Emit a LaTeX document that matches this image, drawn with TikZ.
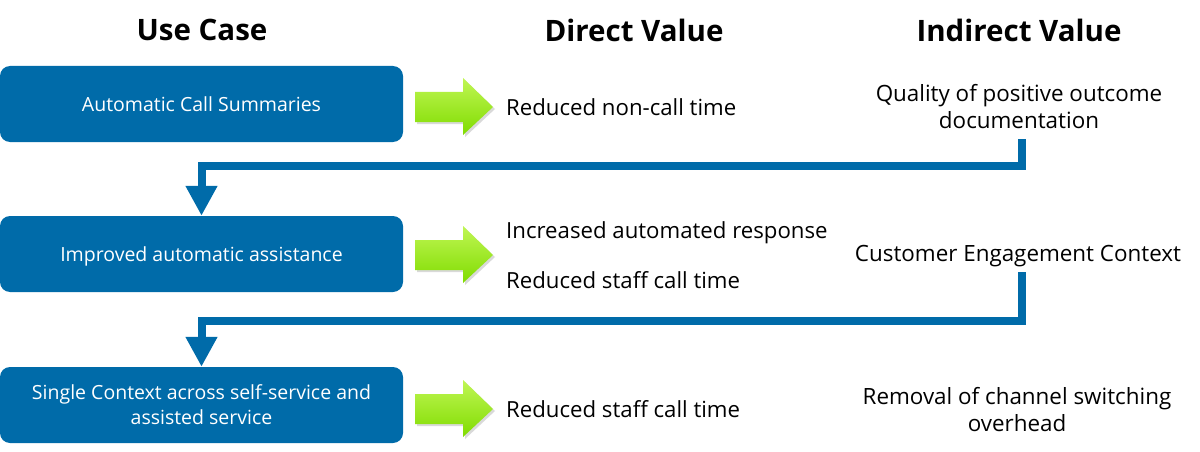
\documentclass[tikz,border=0pt]{standalone}
\usepackage{fontspec}
\setmainfont{Open Sans}
\usetikzlibrary{arrows.meta}
\definecolor{boxblue}{RGB}{0,107,169}
\definecolor{gtop}{RGB}{192,246,84}
\definecolor{gbot}{RGB}{128,220,0}
\tikzset{
  ucbox/.style={fill=boxblue, rounded corners=10pt, minimum width=403pt, minimum height=76pt,
    text=white, font=\fontsize{19.5}{25}\selectfont, align=center, inner sep=0pt, text depth=0pt},
  title/.style={font=\fontsize{29.5}{34}\selectfont\bfseries},
  dval/.style={anchor=west, font=\fontsize{22.2}{27}\selectfont, inner sep=0pt},
  ival/.style={font=\fontsize{22.4}{27}\selectfont, align=center, inner sep=0pt},
  garrow/.style={top color=gtop, bottom color=gbot, draw=none},
  conn/.style={draw=boxblue, line width=8pt, line join=miter, -{Triangle[width=30pt,length=30pt]}},
}
\begin{document}
\begin{tikzpicture}[x=1pt,y=-1pt]
\useasboundingbox (0,0) rectangle (1200,452);
% titles
\node[title] (t1) at (202,30) {Use Case};
\node[title] (t2) at (634,30) {Direct Value};
\node[title] (t3) at (1019,30) {Indirect Value};
% boxes
\node[ucbox] (b1) at (201.5,104) {Automatic Call Summaries};
\node[ucbox] (b2) at (201.5,254) {Improved automatic assistance};
\node[ucbox] (b3) at (201.5,405) {Single Context across self-service and\\assisted service};
% green arrows
\foreach \y/\n in {107/a1,255/a2,409/a3}{
  \fill[gray!30] (417,\y-13) -- (465,\y-13) -- (465,\y-27) -- (495,\y+2) -- (465,\y+30) -- (465,\y+17) -- (417,\y+17) -- cycle;
  \path[garrow] (415,\y-15) -- (463,\y-15) -- (463,\y-29) -- (493,\y) -- (463,\y+28) -- (463,\y+15) -- (415,\y+15) -- cycle;
}
% direct values
\node[dval] (d1) at (506,107) {Reduced non-call time};
\node[dval] (d2) at (506,233) {Increased automated response};
\node[dval] (d3) at (506,280) {Reduced staff call time};
\node[dval] (d4) at (506,409) {Reduced staff call time};
% indirect values
\node[ival] (i1) at (1019,107) {Quality of positive outcome\\documentation};
\node[ival] (i2) at (1018,256) {Customer Engagement Context};
\node[ival] (i3) at (1017,410) {Removal of channel switching\\overhead};
% connectors
\coordinate (s1) at (1022,139);
\coordinate (s2) at (1022,272);
\draw[conn] (s1) |- (b2.north |- 0,166) -- (b2.north);
\draw[conn] (s2) |- (b3.north |- 0,321) -- (b3.north);
\end{tikzpicture}
\end{document}
